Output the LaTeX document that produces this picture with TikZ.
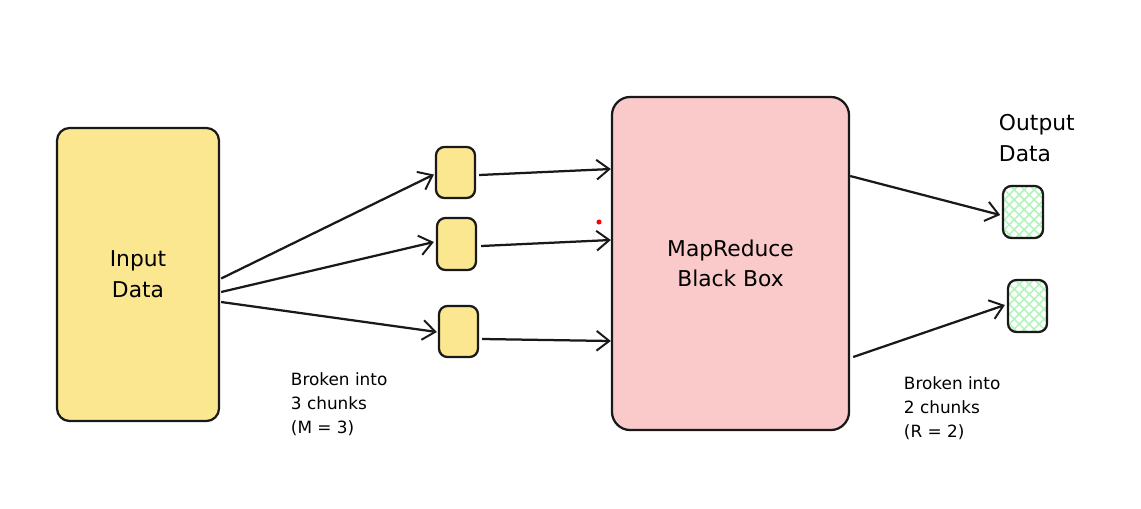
\documentclass[tikz,border=0pt]{standalone}
\usepackage{fontspec}
\setmainfont{DejaVu Sans}
\usetikzlibrary{calc,arrows.meta,patterns.meta}

\definecolor{inyellow}{HTML}{FBE790}
\definecolor{mrpink}{HTML}{FAC9C9}
\definecolor{hatchgreen}{HTML}{B2F2BB}

\begin{document}
\begin{tikzpicture}[x=0.025cm, y=-0.025cm,
    box/.style={draw=black!90, line width=1.6pt, rounded corners=9pt, inner sep=0pt},
    arr/.style={-{Straight Barb[length=9pt,width=14pt,line width=1.4pt]}, line width=1.6pt, black!90},
    note/.style={align=left, anchor=north west, font=\fontsize{12}{17}\selectfont}]
            \useasboundingbox (0,0) rectangle (1141,508);

            % input and chunks
            \node[box, fill=inyellow, minimum width=4.05cm, minimum height=7.325cm, align=center,
                  font=\fontsize{15.5}{22}\selectfont] (inp) at (138,274.5) {Input\\Data};
            \node[box, fill=inyellow, rounded corners=6pt, minimum width=0.975cm, minimum height=1.275cm] (c1) at (455.5,172.5) {};
            \node[box, fill=inyellow, rounded corners=6pt, minimum width=0.975cm, minimum height=1.3cm] (c2) at (456.5,244) {};
            \node[box, fill=inyellow, rounded corners=6pt, minimum width=0.975cm, minimum height=1.275cm] (c3) at (458.5,331.5) {};

            % black box
            \node[box, fill=mrpink, rounded corners=13pt, minimum width=5.925cm, minimum height=8.325cm, align=center,
                  font=\fontsize{15.5}{21}\selectfont] (mr) at (730.5,263.5) {MapReduce\\Black Box};

            % outputs
            \node[box, rounded corners=6pt, pattern={Hatch[angle=45,distance=5pt,line width=1.1pt]}, pattern color=hatchgreen,
                  minimum width=1cm, minimum height=1.3cm] (o1) at (1023,212) {};
            \node[box, rounded corners=6pt, pattern={Hatch[angle=45,distance=5pt,line width=1.1pt]}, pattern color=hatchgreen,
                  minimum width=0.975cm, minimum height=1.3cm] (o2) at (1027.5,306) {};
            \node[align=left, anchor=north west, font=\fontsize{15.5}{22}\selectfont] (outlbl) at (994,109) {Output\\Data};

            % arrows
            \draw[arr] ($(inp.east)+(1,4)$) -- ($(c1.west)+(-1,2)$);
            \draw[arr] ($(inp.east)+(1,17.5)$) -- ($(c2.west)+(-2,-2)$);
            \draw[arr] ($(inp.east)+(1,27.5)$) -- ($(c3.west)+(-1,0.5)$);

            \draw[arr] ($(c1.east)+(3,2.5)$) -- ($(mr.west)+(0,-94.5)$);
            \draw[arr] ($(c2.east)+(4,2)$) -- ($(mr.west)+(0,-23.5)$);
            \draw[arr] ($(c3.east)+(3,7.5)$) -- ($(mr.west)+(0,77.5)$);

            \draw[arr] ($(mr.east)+(0,-87.5)$) -- ($(o1.west)+(-2,3)$);
            \draw[arr] ($(mr.east)+(3,93.5)$) -- ($(o2.west)+(-2,-1)$);

            \node[note] (lblm) at (286,368) {Broken into\\3 chunks\\(M = 3)};
            \node[note] (lblr) at (899,372) {Broken into\\2 chunks\\(R = 2)};

            \fill[red] (599,222) circle (1.8pt);
        \end{tikzpicture}
\end{document}
